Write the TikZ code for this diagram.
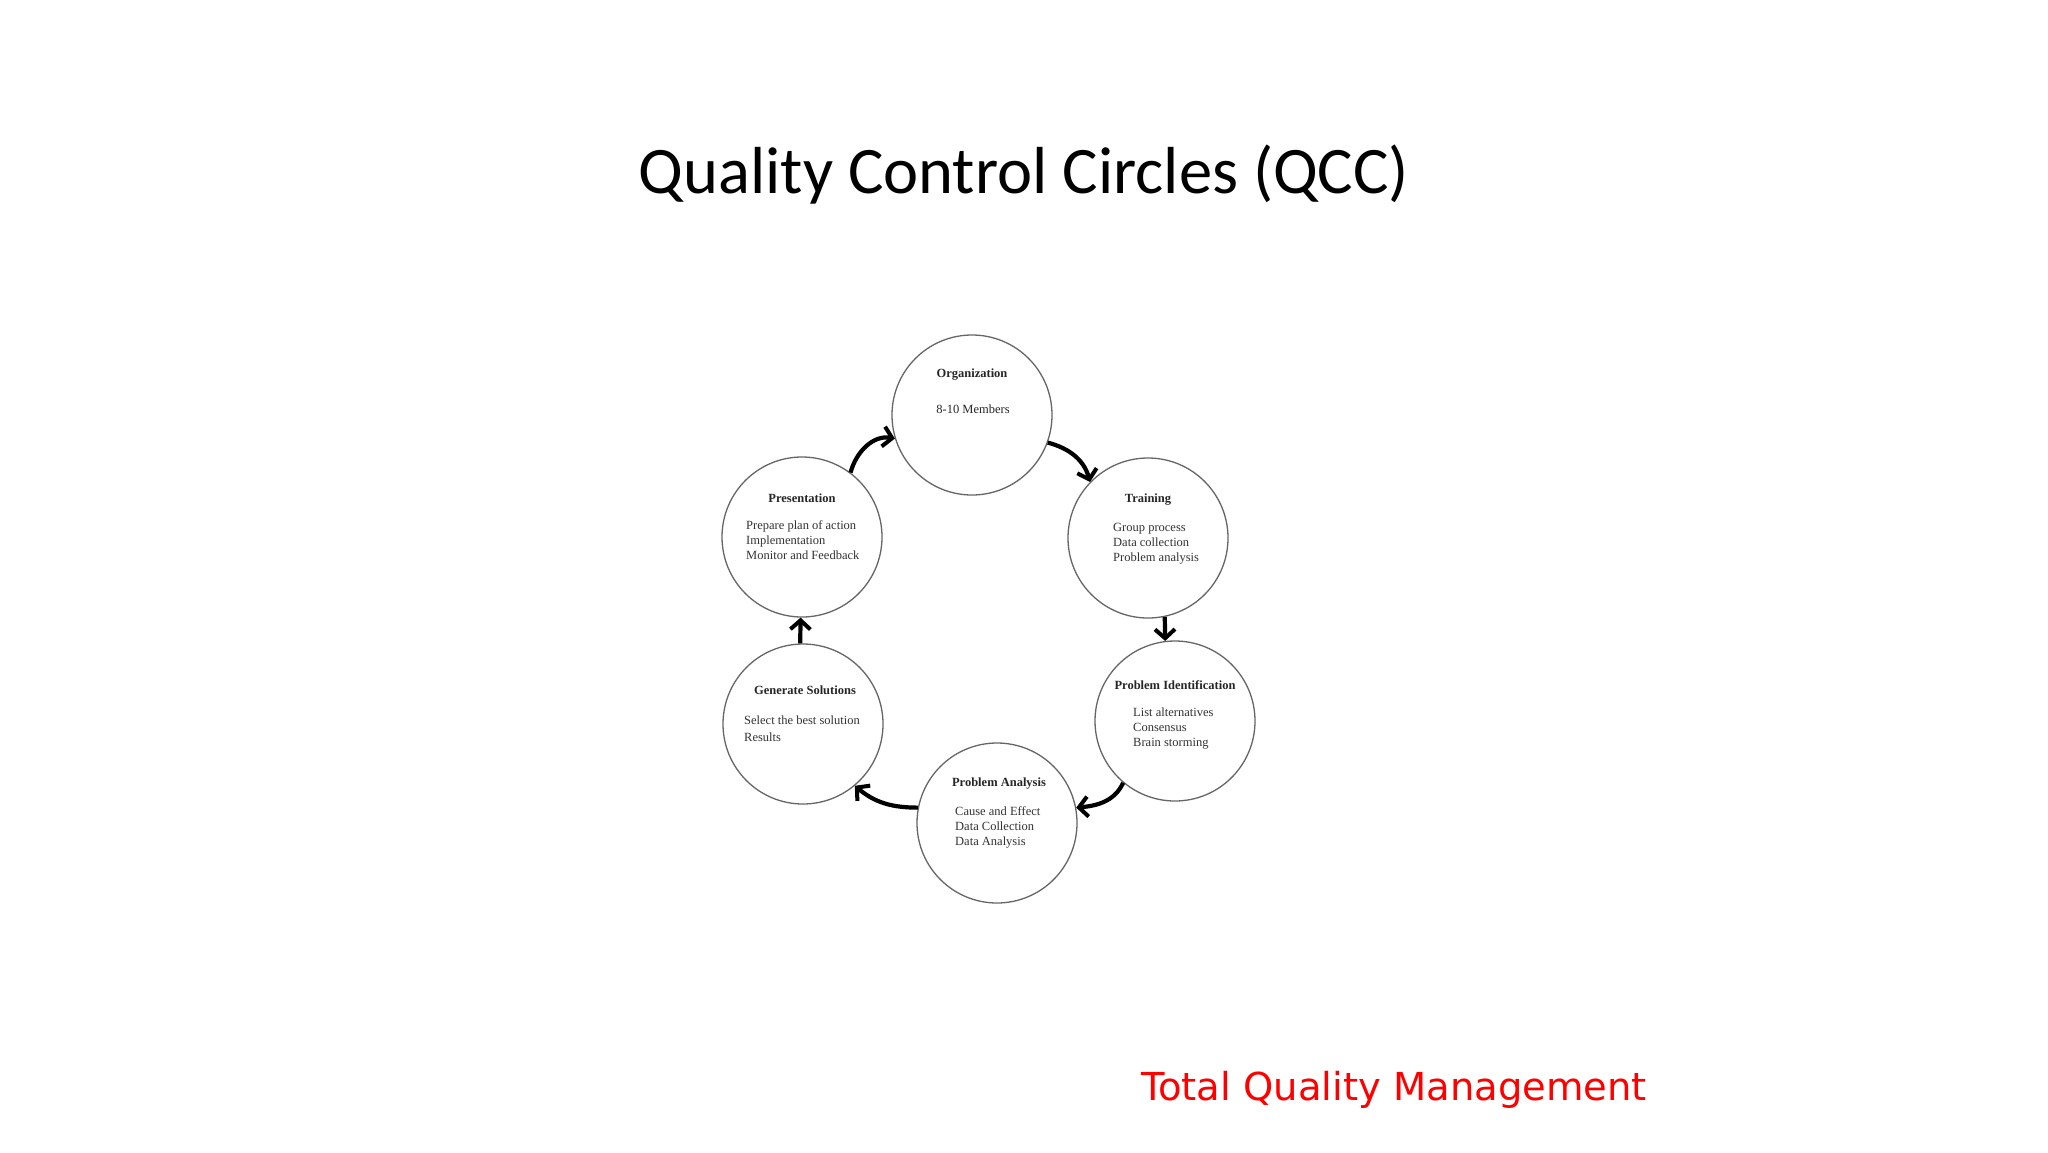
\documentclass[tikz,border=0pt]{standalone}
\usepackage{fontspec}
\setmainfont{Liberation Serif}
\newfontfamily\titlefont{Carlito}
\newfontfamily\footfont{DejaVu Sans}
\usetikzlibrary{arrows.meta}
\definecolor{tqmred}{RGB}{255,0,0}
\tikzset{
  circ/.style={circle, draw=black!60, line width=1.3pt, minimum size=160pt, inner sep=0pt},
  ctitle/.style={font=\fontsize{12.5}{14}\selectfont\bfseries, text=black!85, anchor=base, inner sep=0pt},
  cbody/.style={font=\fontsize{12.5}{14.6}\selectfont, text=black!80, anchor=base west, align=left, inner sep=0pt},
  flow/.style={line width=4.2pt, draw=black, -{Straight Barb[length=9pt,width=20pt,line width=4pt]}}
}
\begin{document}
\begin{tikzpicture}[x=1pt,y=-1pt]
\useasboundingbox[fill=white] (0,0) rectangle (2048,1152);
\node[font=\titlefont\fontsize{66.5}{72}\selectfont, anchor=base, inner sep=0pt] (title) at (1024,193) {Quality Control Circles (QCC)};
\node[font=\footfont\fontsize{38.5}{44}\selectfont, text=tqmred, anchor=base west, inner sep=0pt] (foot) at (1141,1100) {Total Quality Management};

\node[circ] (org) at (972,415) {};
\node[circ] (train) at (1148,538) {};
\node[circ] (pid) at (1175,721) {};
\node[circ] (pa) at (997,823) {};
\node[circ] (gs) at (803,724) {};
\node[circ] (pres) at (802,537) {};

% body nodes: base anchor is the baseline of the last line
\node[ctitle] (orgT) at (972,377) {Organization};
\node[ctitle, font=\fontsize{12.5}{14}\selectfont] (orgB) at (973,413) {8-10 Members};

\node[ctitle] (trainT) at (1148,502) {Training};
\node[cbody] (trainB) at (1113,561) {Group process\\Data collection\\Problem analysis};

\node[ctitle] (pidT) at (1175,689) {Problem Identification};
\node[cbody] (pidB) at (1133,746) {List alternatives\\Consensus\\Brain storming};

\node[ctitle] (paT) at (999,786) {Problem Analysis};
\node[cbody] (paB) at (955,845) {Cause and Effect\\Data Collection\\Data Analysis};

\node[ctitle] (gsT) at (805,694) {Generate Solutions};
\node[cbody, font=\fontsize{12.5}{17}\selectfont] (gsB) at (744,741) {Select the best solution\\Results};

\node[ctitle] (presT) at (802,502) {Presentation};
\node[cbody] (presB) at (746,559) {Prepare plan of action\\Implementation\\Monitor and Feedback};

\draw[flow] (org.-20) to[out=-15,in=105] (train.136);
\draw[flow] (train.-78) -- (pid.97);
\draw[flow] (pid.-130) to[out=-115,in=5] (pa.11);
\draw[flow] (pa.169) to[out=180,in=-40] (gs.-50);
\draw[flow] (gs.92) -- (pres.-91);
\draw[flow] (pres.53) to[out=75,in=170] (org.-163);
\end{tikzpicture}
\end{document}
